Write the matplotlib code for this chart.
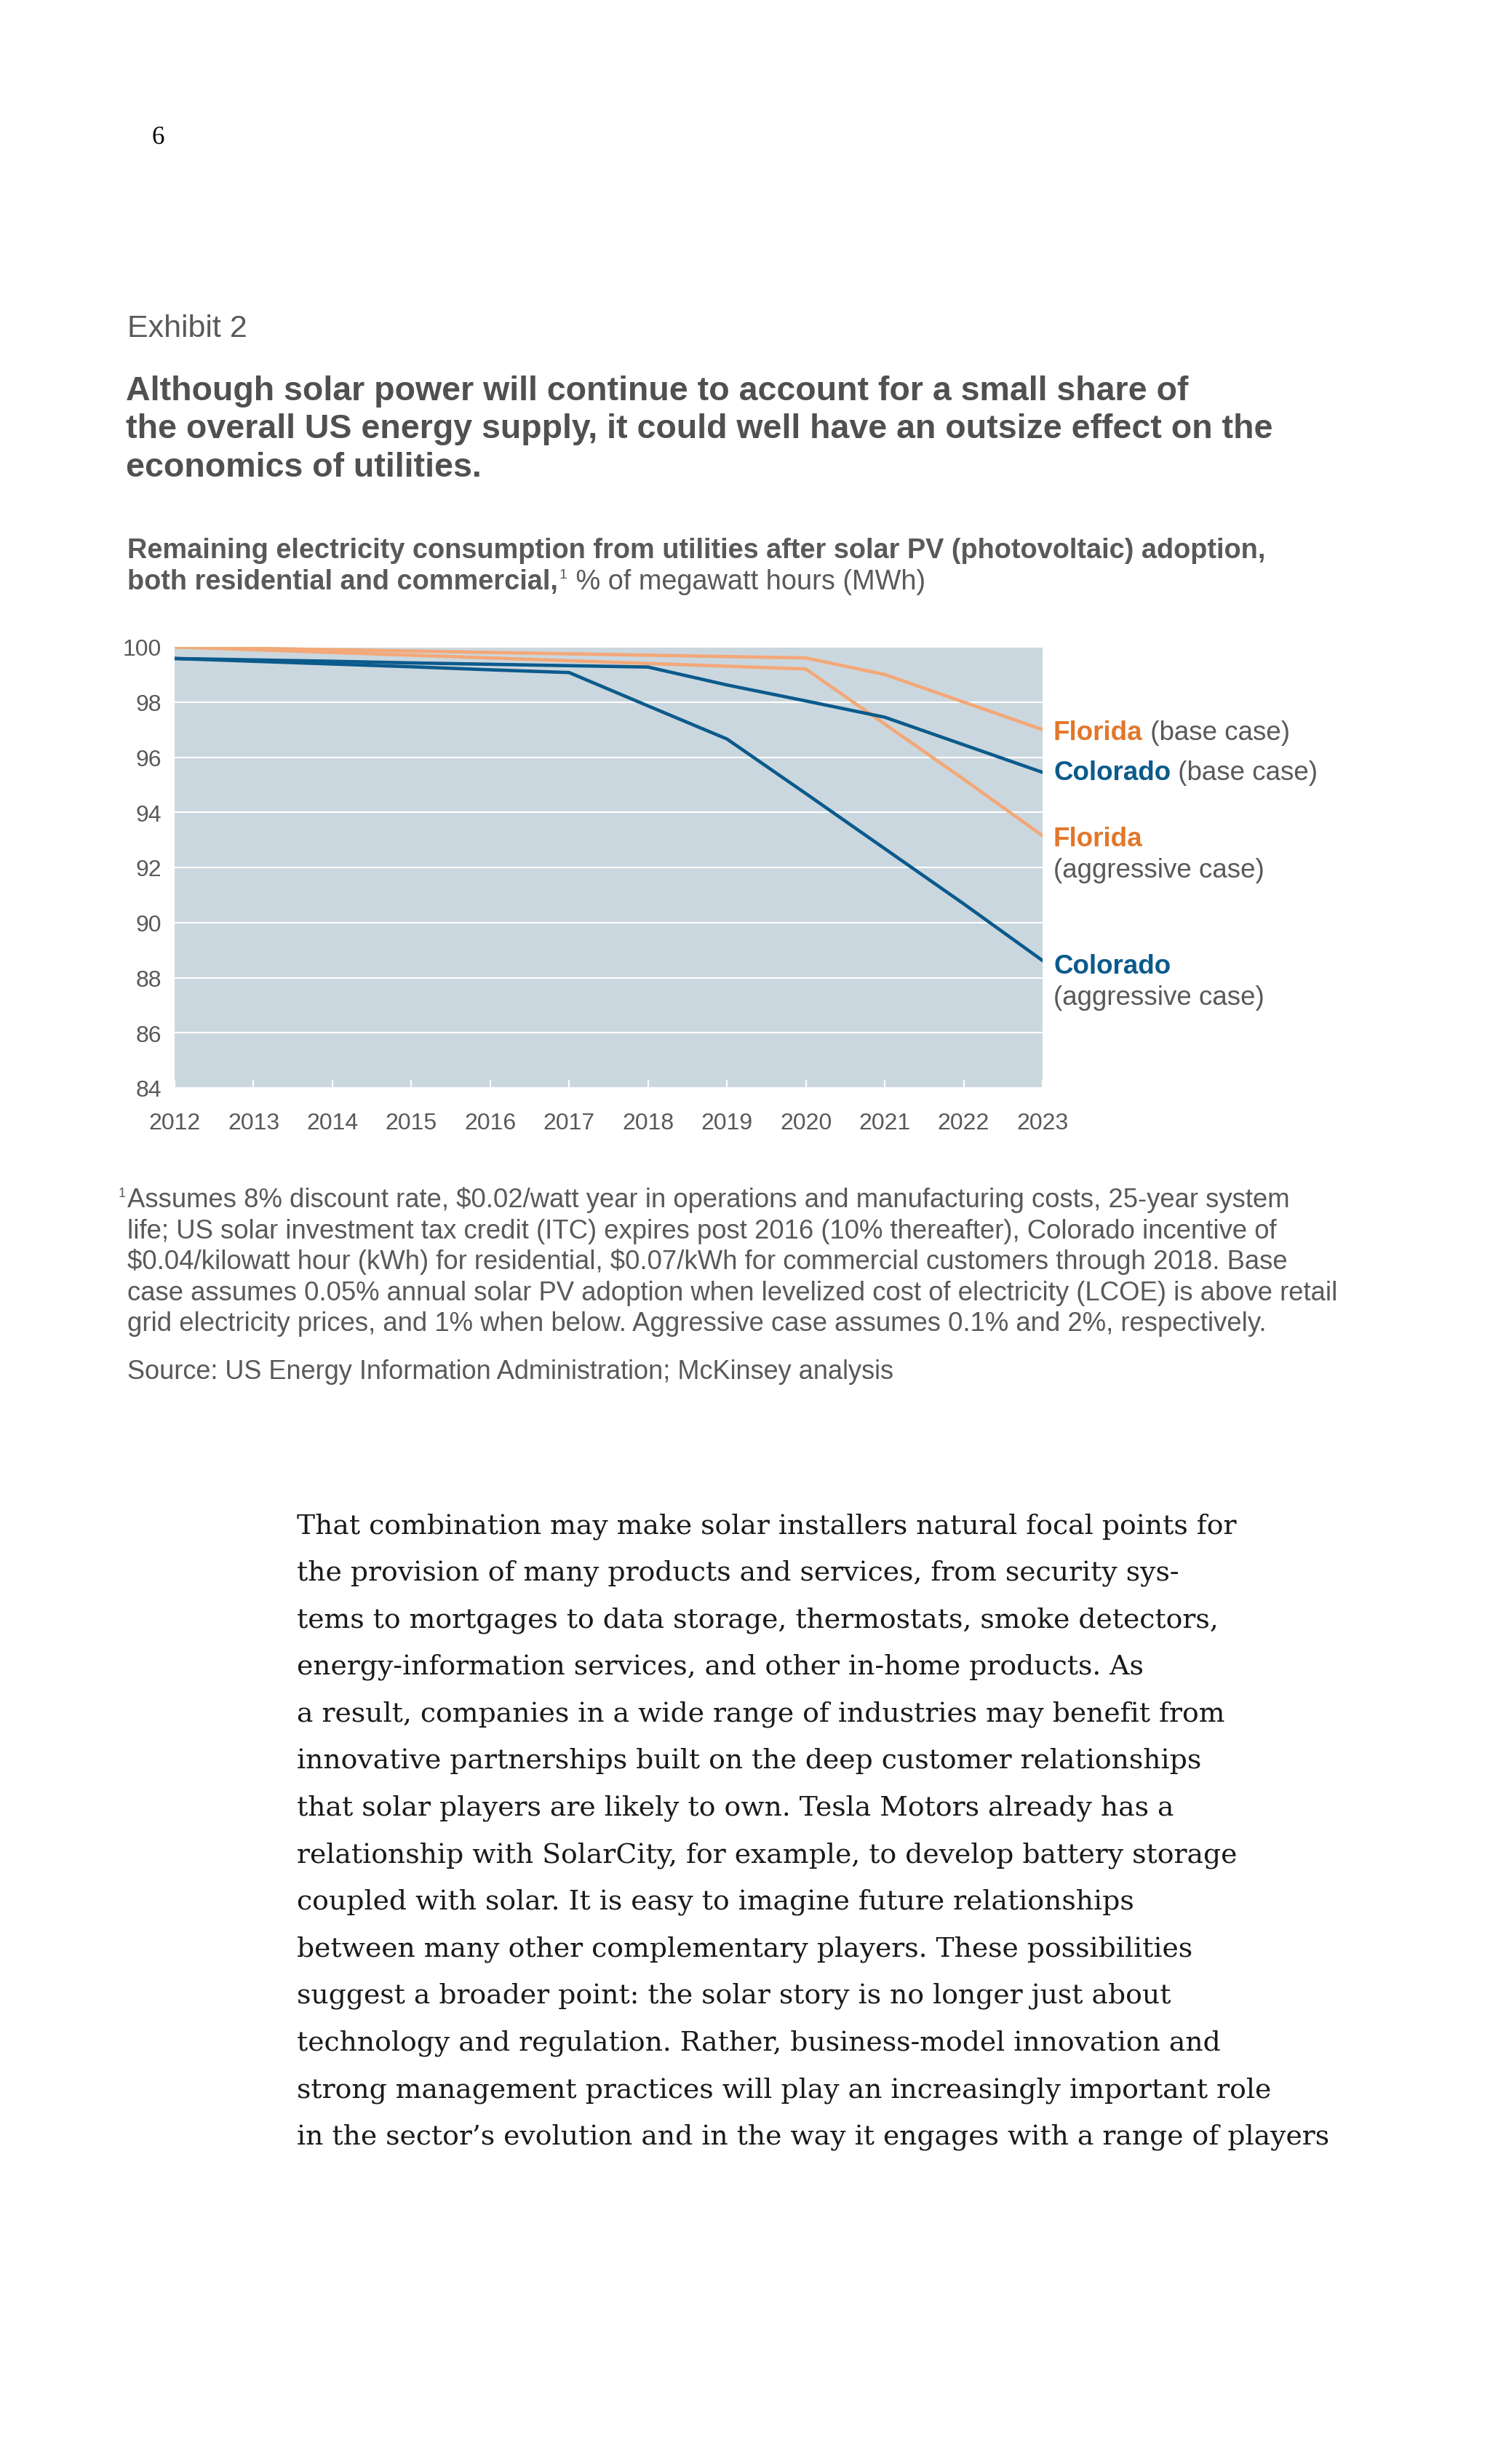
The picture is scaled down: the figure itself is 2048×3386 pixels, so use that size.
import matplotlib
matplotlib.use("Agg")
import matplotlib.pyplot as plt

plt.rcParams["text.parse_math"] = False

W, H = 2048, 3387
DPI = 100

years = list(range(2012, 2024))
florida_base = [100.0, 99.95, 99.9, 99.85, 99.8, 99.75, 99.7, 99.65, 99.6, 99.0, 98.0, 97.0]
florida_aggr = [100.0, 99.9, 99.8, 99.7, 99.6, 99.5, 99.4, 99.3, 99.2, 97.2, 95.2, 93.15]
colorado_base = [99.58, 99.53, 99.48, 99.42, 99.37, 99.32, 99.27, 98.62, 98.04, 97.45, 96.45, 95.45]
colorado_aggr = [99.58, 99.48, 99.38, 99.28, 99.17, 99.07, 97.86, 96.66, 94.68, 92.68, 90.68, 88.62]
y_ticks = [84, 86, 88, 90, 92, 94, 96, 98, 100]

title_lines = [
    "Although solar power will continue to account for a small share of",
    "the overall US energy supply, it could well have an outsize effect on the",
    "economics of utilities.",
]
footnote_lines = [
    "Assumes 8% discount rate, $0.02/watt year in operations and manufacturing costs, 25-year system",
    "life; US solar investment tax credit (ITC) expires post 2016 (10% thereafter), Colorado incentive of",
    "$0.04/kilowatt hour (kWh) for residential, $0.07/kWh for commercial customers through 2018. Base",
    "case assumes 0.05% annual solar PV adoption when levelized cost of electricity (LCOE) is above retail",
    "grid electricity prices, and 1% when below. Aggressive case assumes 0.1% and 2%, respectively.",
]
body_lines = [
    "That combination may make solar installers natural focal points for",
    "the provision of many products and services, from security sys-",
    "tems to mortgages to data storage, thermostats, smoke detectors,",
    "energy-information services, and other in-home products. As",
    "a result, companies in a wide range of industries may benefit from",
    "innovative partnerships built on the deep customer relationships",
    "that solar players are likely to own. Tesla Motors already has a",
    "relationship with SolarCity, for example, to develop battery storage",
    "coupled with solar. It is easy to imagine future relationships",
    "between many other complementary players. These possibilities",
    "suggest a broader point: the solar story is no longer just about",
    "technology and regulation. Rather, business-model innovation and",
    "strong management practices will play an increasingly important role",
    "in the sector\u2019s evolution and in the way it engages with a range of players",
]

GREY = "#58595b"
DARK = "#505052"
ORANGE_LINE = "#f3a878"
ORANGE_TEXT = "#e2772a"
BLUE = "#0b5a8c"
BG = "#cbd7de"
SANS = "Liberation Sans"
SERIF = "DejaVu Serif"

fig = plt.figure(figsize=(W / DPI, H / DPI), dpi=DPI)
fig.patch.set_facecolor("white")
renderer = fig.canvas.get_renderer()


def fx(x):
    return x / W


def fy(y):
    return 1 - y / H


def run_text(x, y, parts, size):
    # draw pieces of text one after another on the same baseline
    for txt, weight, color in parts:
        t = fig.text(fx(x), fy(y), txt, fontsize=size, fontweight=weight,
                     color=color, family=SANS, va="baseline", ha="left")
        x += t.get_window_extent(renderer).width
    return x


# page number and headings
fig.text(fx(208), fy(198), "6", fontsize=25, family="Liberation Serif", color="black", va="baseline")
fig.text(fx(175), fy(463), "Exhibit 2", fontsize=31, family=SANS, color=GREY, va="baseline")
for i, line in enumerate(title_lines):
    fig.text(fx(173), fy(550 + 52.5 * i), line, fontsize=33.5, fontweight="bold",
             family=SANS, color=DARK, va="baseline")

run_text(175, 767, [("Remaining electricity consumption from utilities after solar PV (photovoltaic) adoption,",
                     "bold", GREY)], 27.3)
xe = run_text(175, 810, [("both residential and commercial,", "bold", GREY)], 27.3)
fig.text(fx(xe + 2), fy(795), "1", fontsize=14, family=SANS, color=GREY, va="baseline")
run_text(xe + 14, 810, [(" % of megawatt hours (MWh)", "normal", GREY)], 27.3)

# chart
ax = fig.add_axes([fx(240), fy(1496), (1433 - 240) / W, (1496 - 890) / H])
ax.set_facecolor(BG)
ax.plot(years, florida_base, color=ORANGE_LINE, lw=3.3, zorder=3)
ax.plot(years, florida_aggr, color=ORANGE_LINE, lw=3.3, zorder=3)
ax.plot(years, colorado_base, color=BLUE, lw=3.3, zorder=4)
ax.plot(years, colorado_aggr, color=BLUE, lw=3.3, zorder=4)
ax.set_xlim(2012, 2023)
ax.set_ylim(84, 100)
ax.set_xticks(years)
ax.set_yticks(y_ticks)
ax.grid(axis="y", color="white", lw=1.5, zorder=1)
ax.set_axisbelow(True)
for s in ax.spines.values():
    s.set_visible(False)
ax.tick_params(axis="x", direction="in", color="white", length=8, width=1.5,
               labelsize=23, labelcolor=GREY, pad=24)
ax.tick_params(axis="y", length=0, labelsize=23, labelcolor=GREY, pad=13)
for lab in ax.get_xticklabels() + ax.get_yticklabels():
    lab.set_family(SANS)

# series labels
run_text(1448, 1017, [("Florida", "bold", ORANGE_TEXT), (" (base case)", "normal", GREY)], 26.5)
run_text(1448, 1072, [("Colorado", "bold", BLUE), (" (base case)", "normal", GREY)], 26.5)
run_text(1448, 1163, [("Florida", "bold", ORANGE_TEXT)], 26.5)
run_text(1448, 1206, [("(aggressive case)", "normal", GREY)], 26.5)
run_text(1448, 1338, [("Colorado", "bold", BLUE)], 26.5)
run_text(1448, 1381, [("(aggressive case)", "normal", GREY)], 26.5)

# footnote and source
fig.text(fx(163), fy(1645), "1", fontsize=13, family=SANS, color=GREY, va="baseline")
for i, line in enumerate(footnote_lines):
    fig.text(fx(175), fy(1659 + 42.6 * i), line, fontsize=26.3, family=SANS,
             color=GREY, va="baseline")
fig.text(fx(175), fy(1895), "Source: US Energy Information Administration; McKinsey analysis",
         fontsize=26, family=SANS, color=GREY, va="baseline")

# body copy
for i, line in enumerate(body_lines):
    fig.text(fx(408), fy(2107 + 64.6 * i), line, fontsize=27.2, family=SERIF,
             color="#1a1a1a", va="baseline")

fig.savefig("out.png", dpi=DPI, facecolor="white")
